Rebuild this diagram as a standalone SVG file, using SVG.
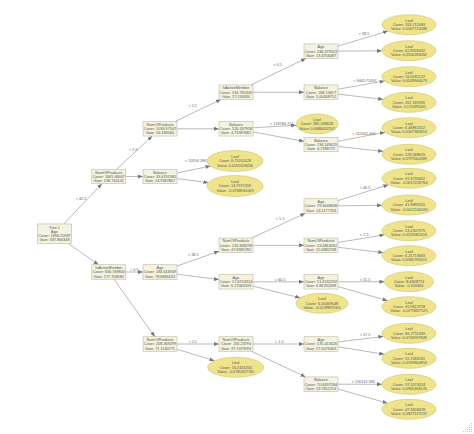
<svg xmlns="http://www.w3.org/2000/svg" width="474" height="434" viewBox="0 0 474 434">
<style>
.box{fill:#f3f3df;stroke:#b9b9a3;stroke-width:0.6}
.leaf{fill:#efe48c;stroke:#cfc264;stroke-width:0.6}
.t{font-family:"Liberation Sans",Arial,sans-serif;font-size:3.8px;fill:#555;text-anchor:middle}
.e{stroke:#8c8c8c;stroke-width:0.6;fill:none;marker-end:url(#arr)}
.lbl{font-family:"Liberation Sans",Arial,sans-serif;font-size:3.8px;fill:#666;text-anchor:middle}
.grip{fill:#c4c4c4}
</style>
<defs>
<marker id="arr" viewBox="0 0 10 8" refX="10" refY="4" markerWidth="5" markerHeight="4" markerUnits="userSpaceOnUse" orient="auto">
<path d="M0,0 L10,4 L0,8 z" fill="#777"/>
</marker>
</defs>
<rect width="474" height="434" fill="#fff"/>
<g id="connectors">
<line class="e" x1="63.76" y1="223.95" x2="101.92" y2="183.75"/>
<line class="e" x1="68.32" y1="243.45" x2="98.52" y2="264.75"/>
<line class="e" x1="116.58" y1="169.25" x2="152.22" y2="136.05"/>
<line class="e" x1="125.8" y1="176.5" x2="143" y2="176.5"/>
<line class="e" x1="175.05" y1="121.55" x2="220.95" y2="99.45"/>
<line class="e" x1="177" y1="128.8" x2="219" y2="128.8"/>
<line class="e" x1="251.03" y1="84.95" x2="305.97" y2="58.45"/>
<line class="e" x1="253" y1="92.2" x2="304" y2="92.2"/>
<line class="e" x1="338" y1="46.08" x2="388.05" y2="31.01"/>
<line class="e" x1="338" y1="51.1" x2="382" y2="50.85"/>
<line class="e" x1="338" y1="89.2" x2="384.62" y2="80.99"/>
<line class="e" x1="338" y1="94.15" x2="383.21" y2="99.34"/>
<line class="e" x1="253" y1="127.79" x2="296.16" y2="125.24"/>
<line class="e" x1="253" y1="131.94" x2="304" y2="141.36"/>
<line class="e" x1="338" y1="141.25" x2="385" y2="132.28"/>
<line class="e" x1="338" y1="146.39" x2="383.14" y2="151.42"/>
<line class="e" x1="177" y1="172.99" x2="210.47" y2="166.07"/>
<line class="e" x1="177" y1="178.65" x2="208.47" y2="182.64"/>
<line class="e" x1="125.8" y1="272" x2="143" y2="272"/>
<line class="e" x1="113.96" y1="279.25" x2="154.84" y2="336.75"/>
<line class="e" x1="177" y1="266.03" x2="219" y2="251.27"/>
<line class="e" x1="177" y1="274.19" x2="219" y2="279.61"/>
<line class="e" x1="251.68" y1="238.05" x2="305.32" y2="213.25"/>
<line class="e" x1="253" y1="245.3" x2="304" y2="245.3"/>
<line class="e" x1="338" y1="200.65" x2="388.43" y2="184.78"/>
<line class="e" x1="338" y1="205.81" x2="382" y2="205.3"/>
<line class="e" x1="338" y1="242.48" x2="384.36" y2="234.79"/>
<line class="e" x1="338" y1="247.31" x2="383.28" y2="252.66"/>
<line class="e" x1="253" y1="281.8" x2="304" y2="281.8"/>
<line class="e" x1="253" y1="286.05" x2="300.2" y2="297.85"/>
<line class="e" x1="338" y1="281.8" x2="384.5" y2="281.7"/>
<line class="e" x1="338" y1="286.61" x2="387.54" y2="300.63"/>
<line class="e" x1="177" y1="344" x2="219" y2="344"/>
<line class="e" x1="177" y1="349.23" x2="214.49" y2="360.77"/>
<line class="e" x1="253" y1="344" x2="304" y2="344"/>
<line class="e" x1="251.33" y1="351.25" x2="305.67" y2="376.95"/>
<line class="e" x1="338" y1="341.93" x2="383.34" y2="336.42"/>
<line class="e" x1="338" y1="346.76" x2="384.27" y2="354.28"/>
<line class="e" x1="338" y1="384.2" x2="382" y2="384.3"/>
<line class="e" x1="338" y1="389.05" x2="387.6" y2="403.2"/>
<text class="lbl" x="81" y="199.5">&lt; 42.5</text>
<text class="lbl" x="133.3" y="150.5">&lt; 2.5</text>
<text class="lbl" x="192.7" y="107">&lt; 1.5</text>
<text class="lbl" x="277.7" y="65.5">&lt; 0.5</text>
<text class="lbl" x="364" y="35">&lt; 38.5</text>
<text class="lbl" x="365" y="82">&lt; 9445.75492</text>
<text class="lbl" x="281.7" y="124.8">&lt; 149284.724</text>
<text class="lbl" x="364" y="134.5">&lt; 112401.406</text>
<text class="lbl" x="196.7" y="162">&lt; 20194.3961</text>
<text class="lbl" x="134.3" y="271">&lt; 0.5</text>
<text class="lbl" x="193.3" y="256.3">&lt; 38.5</text>
<text class="lbl" x="280" y="219.5">&lt; 1.5</text>
<text class="lbl" x="365" y="189">&lt; 40.5</text>
<text class="lbl" x="364.3" y="236.3">&lt; 2.5</text>
<text class="lbl" x="280" y="280.8">&lt; 60.5</text>
<text class="lbl" x="365" y="280.7">&lt; 51.5</text>
<text class="lbl" x="192.7" y="343">&lt; 2.5</text>
<text class="lbl" x="279.3" y="343">&lt; 1.5</text>
<text class="lbl" x="365" y="336">&lt; 57.5</text>
<text class="lbl" x="363.3" y="383.3">&lt; 200110.586</text>
</g>
<g id="root"><rect class="box" x="37.5" y="223.95" width="34" height="19.5"/><text class="t"><tspan x="54.5" y="228.7">Tree 1</tspan><tspan x="54.5" y="232.9">Age</tspan><tspan x="54.5" y="237.1">Cover: 1696.20987</tspan><tspan x="54.5" y="241.3">Gain: 347.866348</tspan></text></g>
<g id="n-l1a"><rect class="box" x="91.8" y="169.25" width="34" height="14.5"/><text class="t"><tspan x="108.8" y="173.6">NumOfProducts</tspan><tspan x="108.8" y="177.8">Cover: 1065.44007</tspan><tspan x="108.8" y="182">Gain: 138.744141</tspan></text></g>
<g id="n-l1b"><rect class="box" x="91.8" y="264.75" width="34" height="14.5"/><text class="t"><tspan x="108.8" y="269.1">IsActiveMember</tspan><tspan x="108.8" y="273.3">Cover: 630.769800</tspan><tspan x="108.8" y="277.5">Gain: 177.708582</tspan></text></g>
<g id="n-l2a"><rect class="box" x="143" y="121.55" width="34" height="14.5"/><text class="t"><tspan x="160" y="125.9">NumOfProducts</tspan><tspan x="160" y="130.1">Cover: 1036.97507</tspan><tspan x="160" y="134.3">Gain: 56.186560</tspan></text></g>
<g id="n-l2b"><rect class="box" x="143" y="169.25" width="34" height="14.5"/><text class="t"><tspan x="160" y="173.6">Balance</tspan><tspan x="160" y="177.8">Cover: 33.4701385</tspan><tspan x="160" y="182">Gain: 14.9387867</tspan></text></g>
<g id="n-l2c"><rect class="box" x="143" y="264.75" width="34" height="14.5"/><text class="t"><tspan x="160" y="269.1">Age</tspan><tspan x="160" y="273.3">Cover: 184.616949</tspan><tspan x="160" y="277.5">Gain: 78.8686133</tspan></text></g>
<g id="n-l2d"><rect class="box" x="143" y="336.75" width="34" height="14.5"/><text class="t"><tspan x="160" y="341.1">NumOfProducts</tspan><tspan x="160" y="345.3">Cover: 208.369299</tspan><tspan x="160" y="349.5">Gain: 71.1140775</tspan></text></g>
<g id="n-l3a"><rect class="box" x="219" y="84.95" width="34" height="14.5"/><text class="t"><tspan x="236" y="89.3">IsActiveMember</tspan><tspan x="236" y="93.5">Cover: 516.782349</tspan><tspan x="236" y="97.7">Gain: 17.193430</tspan></text></g>
<g id="n-l3b"><rect class="box" x="219" y="121.55" width="34" height="14.5"/><text class="t"><tspan x="236" y="125.9">Balance</tspan><tspan x="236" y="130.1">Cover: 520.187958</tspan><tspan x="236" y="134.3">Gain: 4.71987681</tspan></text></g>
<g id="n-l3c"><rect class="box" x="219" y="238.05" width="34" height="14.5"/><text class="t"><tspan x="236" y="242.4">NumOfProducts</tspan><tspan x="236" y="246.6">Cover: 126.848298</tspan><tspan x="236" y="250.8">Gain: 47.6985782</tspan></text></g>
<g id="n-l3d"><rect class="box" x="219" y="274.55" width="34" height="14.5"/><text class="t"><tspan x="236" y="278.9">Age</tspan><tspan x="236" y="283.1">Cover: 57.8724314</tspan><tspan x="236" y="287.3">Gain: 6.27060509</tspan></text></g>
<g id="n-l3e"><rect class="box" x="219" y="336.75" width="34" height="14.5"/><text class="t"><tspan x="236" y="341.1">NumOfProducts</tspan><tspan x="236" y="345.3">Cover: 206.23793</tspan><tspan x="236" y="349.5">Gain: 37.7079593</tspan></text></g>
<g id="n-l4a"><rect class="box" x="304" y="43.95" width="34" height="14.5"/><text class="t"><tspan x="321" y="48.3">Age</tspan><tspan x="321" y="52.5">Cover: 246.479324</tspan><tspan x="321" y="56.7">Gain: 13.4756087</tspan></text></g>
<g id="n-l4b"><rect class="box" x="304" y="84.95" width="34" height="14.5"/><text class="t"><tspan x="321" y="89.3">Balance</tspan><tspan x="321" y="93.5">Cover: 268.13617</tspan><tspan x="321" y="97.7">Gain: 5.00308752</tspan></text></g>
<g id="n-l4c"><rect class="box" x="304" y="137.25" width="34" height="14.5"/><text class="t"><tspan x="321" y="141.6">Balance</tspan><tspan x="321" y="145.8">Cover: 134.549029</tspan><tspan x="321" y="150">Gain: 4.7188771</tspan></text></g>
<g id="n-l4d"><rect class="box" x="304" y="198.75" width="34" height="14.5"/><text class="t"><tspan x="321" y="203.1">Age</tspan><tspan x="321" y="207.3">Cover: 79.4648668</tspan><tspan x="321" y="211.5">Gain: 14.5177763</tspan></text></g>
<g id="n-l4e"><rect class="box" x="304" y="238.05" width="34" height="14.5"/><text class="t"><tspan x="321" y="242.4">NumOfProducts</tspan><tspan x="321" y="246.6">Cover: 53.4863061</tspan><tspan x="321" y="250.8">Gain: 15.0882738</tspan></text></g>
<g id="n-l4f"><rect class="box" x="304" y="274.55" width="34" height="14.5"/><text class="t"><tspan x="321" y="278.9">Age</tspan><tspan x="321" y="283.1">Cover: 51.6532292</tspan><tspan x="321" y="287.3">Gain: 6.86782098</tspan></text></g>
<g id="n-l4g"><rect class="box" x="304" y="336.75" width="34" height="14.5"/><text class="t"><tspan x="321" y="341.1">Age</tspan><tspan x="321" y="345.3">Cover: 135.413426</tspan><tspan x="321" y="349.5">Gain: 27.0076363</tspan></text></g>
<g id="n-l4h"><rect class="box" x="304" y="376.95" width="34" height="14.5"/><text class="t"><tspan x="321" y="381.3">Balance</tspan><tspan x="321" y="385.5">Cover: 70.8637584</tspan><tspan x="321" y="389.7">Gain: 13.7852213</tspan></text></g>
<g id="leaf-a"><ellipse class="leaf" cx="235" cy="161" rx="28" ry="10.5"/><text class="t"><tspan x="235" y="158.1">Leaf</tspan><tspan x="235" y="162.3">Cover: 8.73201028</tspan><tspan x="235" y="166.5">Value: 0.0555028456</tspan></text></g>
<g id="leaf-b"><ellipse class="leaf" cx="235" cy="186" rx="28" ry="10.5"/><text class="t"><tspan x="235" y="183.1">Leaf</tspan><tspan x="235" y="187.3">Cover: 14.7971359</tspan><tspan x="235" y="191.5">Value: -0.0768941069</tspan></text></g>
<g id="leaf-c"><ellipse class="leaf" cx="317" cy="124" rx="21" ry="10"/><text class="t"><tspan x="317" y="121.1">Leaf</tspan><tspan x="317" y="125.3">Cover: 385.348628</tspan><tspan x="317" y="129.5">Value: 0.0686052557</tspan></text></g>
<g id="leaf-d"><ellipse class="leaf" cx="322" cy="303.3" rx="26" ry="10"/><text class="t"><tspan x="322" y="300.4">Leaf</tspan><tspan x="322" y="304.6">Cover: 6.20469648</tspan><tspan x="322" y="308.8">Value: -0.0139897065</tspan></text></g>
<g id="leaf-e"><ellipse class="leaf" cx="235.7" cy="367.3" rx="28" ry="10"/><text class="t"><tspan x="235.7" y="364.4">Leaf</tspan><tspan x="235.7" y="368.6">Cover: 16.2416256</tspan><tspan x="235.7" y="372.8">Value: -0.0780327761</tspan></text></g>
<g id="leaf-1"><ellipse class="leaf" cx="409" cy="24.7" rx="27" ry="10"/><text class="t"><tspan x="409" y="21.8">Leaf</tspan><tspan x="409" y="26">Cover: 203.712083</tspan><tspan x="409" y="30.2">Value: 0.0507715088</tspan></text></g>
<g id="leaf-2"><ellipse class="leaf" cx="409" cy="50.7" rx="27" ry="10"/><text class="t"><tspan x="409" y="47.8">Leaf</tspan><tspan x="409" y="52">Cover: 42.8926432</tspan><tspan x="409" y="56.2">Value: 0.0520283082</tspan></text></g>
<g id="leaf-3"><ellipse class="leaf" cx="409" cy="76.7" rx="27" ry="10"/><text class="t"><tspan x="409" y="73.8">Leaf</tspan><tspan x="409" y="78">Cover: 16.0182122</tspan><tspan x="409" y="82.2">Value: 0.0528944073</tspan></text></g>
<g id="leaf-4"><ellipse class="leaf" cx="409" cy="102.3" rx="27" ry="10"/><text class="t"><tspan x="409" y="99.4">Leaf</tspan><tspan x="409" y="103.6">Cover: 267.181965</tspan><tspan x="409" y="107.8">Value: 0.175085001</tspan></text></g>
<g id="leaf-5"><ellipse class="leaf" cx="409" cy="127.7" rx="27" ry="10"/><text class="t"><tspan x="409" y="124.8">Leaf</tspan><tspan x="409" y="129">Cover: 6.46861322</tspan><tspan x="409" y="133.2">Value: 0.0307380814</tspan></text></g>
<g id="leaf-6"><ellipse class="leaf" cx="409" cy="154.3" rx="27" ry="10"/><text class="t"><tspan x="409" y="151.4">Leaf</tspan><tspan x="409" y="155.6">Cover: 128.088619</tspan><tspan x="409" y="159.8">Value: 0.0797000089</tspan></text></g>
<g id="leaf-7"><ellipse class="leaf" cx="409" cy="178.3" rx="27" ry="10"/><text class="t"><tspan x="409" y="175.4">Leaf</tspan><tspan x="409" y="179.6">Cover: 37.4739402</tspan><tspan x="409" y="183.8">Value: -0.0017228764</tspan></text></g>
<g id="leaf-8"><ellipse class="leaf" cx="409" cy="205" rx="27" ry="10"/><text class="t"><tspan x="409" y="202.1">Leaf</tspan><tspan x="409" y="206.3">Cover: 41.9889201</tspan><tspan x="409" y="210.5">Value: -0.0412100596</tspan></text></g>
<g id="leaf-9"><ellipse class="leaf" cx="409" cy="230.7" rx="27" ry="10"/><text class="t"><tspan x="409" y="227.8">Leaf</tspan><tspan x="409" y="232">Cover: 53.2307375</tspan><tspan x="409" y="236.2">Value: 0.0529082414</tspan></text></g>
<g id="leaf-10"><ellipse class="leaf" cx="409" cy="255.7" rx="27" ry="10"/><text class="t"><tspan x="409" y="252.8">Leaf</tspan><tspan x="409" y="257">Cover: 6.25713683</tspan><tspan x="409" y="261.2">Value: 0.0965769415</tspan></text></g>
<g id="leaf-11"><ellipse class="leaf" cx="409" cy="281.7" rx="24.5" ry="10"/><text class="t"><tspan x="409" y="278.8">Leaf</tspan><tspan x="409" y="283">Cover: 8.4908774</tspan><tspan x="409" y="287.2">Value: -0.024406</tspan></text></g>
<g id="leaf-12"><ellipse class="leaf" cx="409" cy="306.7" rx="27" ry="10"/><text class="t"><tspan x="409" y="303.8">Leaf</tspan><tspan x="409" y="308">Cover: 45.9613758</tspan><tspan x="409" y="312.2">Value: -0.0775827525</tspan></text></g>
<g id="leaf-13"><ellipse class="leaf" cx="409" cy="333.3" rx="27" ry="10"/><text class="t"><tspan x="409" y="330.4">Leaf</tspan><tspan x="409" y="334.6">Cover: 81.7711939</tspan><tspan x="409" y="338.8">Value: 0.0716997849</tspan></text></g>
<g id="leaf-14"><ellipse class="leaf" cx="409" cy="358.3" rx="27" ry="10"/><text class="t"><tspan x="409" y="355.4">Leaf</tspan><tspan x="409" y="359.6">Cover: 55.7080181</tspan><tspan x="409" y="363.8">Value: 0.0599800853</tspan></text></g>
<g id="leaf-15"><ellipse class="leaf" cx="409" cy="384.3" rx="27" ry="10"/><text class="t"><tspan x="409" y="381.4">Leaf</tspan><tspan x="409" y="385.6">Cover: 37.2074324</tspan><tspan x="409" y="389.8">Value: 0.0965308135</tspan></text></g>
<g id="leaf-16"><ellipse class="leaf" cx="409" cy="409.3" rx="27" ry="10"/><text class="t"><tspan x="409" y="406.4">Leaf</tspan><tspan x="409" y="410.6">Cover: 47.3658478</tspan><tspan x="409" y="414.8">Value: 0.0827137237</tspan></text></g>
<g id="grip">
<rect class="grip" x="471" y="423" width="1" height="1"/>
<rect class="grip" x="469" y="425" width="1" height="1"/><rect class="grip" x="471" y="425" width="1" height="1"/>
<rect class="grip" x="467" y="427" width="1" height="1"/><rect class="grip" x="469" y="427" width="1" height="1"/><rect class="grip" x="471" y="427" width="1" height="1"/>
<rect class="grip" x="465" y="429" width="1" height="1"/><rect class="grip" x="467" y="429" width="1" height="1"/><rect class="grip" x="469" y="429" width="1" height="1"/><rect class="grip" x="471" y="429" width="1" height="1"/>
<rect class="grip" x="463" y="431" width="1" height="1"/><rect class="grip" x="465" y="431" width="1" height="1"/><rect class="grip" x="467" y="431" width="1" height="1"/><rect class="grip" x="469" y="431" width="1" height="1"/><rect class="grip" x="471" y="431" width="1" height="1"/>
</g>
</svg>
